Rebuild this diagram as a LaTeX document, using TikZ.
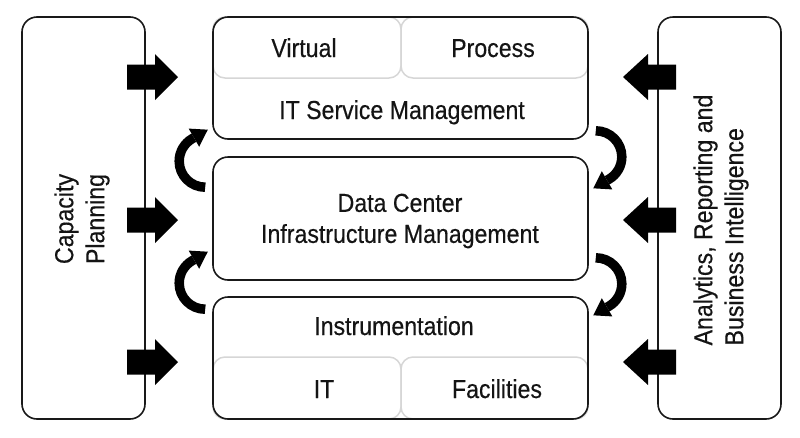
\documentclass[tikz,border=0pt]{standalone}
\usepackage{fontspec}
\setmainfont{Liberation Sans}[FakeStretch=0.89,FakeBold=0.4]
\usetikzlibrary{arrows.meta}
\begin{document}
\begin{tikzpicture}[x=1pt,y=-1pt,
  box/.style={draw=black!90, line width=1.6pt, rounded corners=15pt, inner sep=0pt},
  subbox/.style={draw=black!16, line width=1.5pt, rounded corners=12pt, inner sep=0pt},
  lbl/.style={font=\fontsize{26}{31}\selectfont, text=black!92, inner sep=0pt},
  blk/.style={fill=black},
  curv/.style={line width=9.5pt, black, -{Triangle[length=16pt,width=21pt,line width=0pt]}}]
\useasboundingbox (0,0) rectangle (800,437);
% sub boxes
\node[subbox, minimum width=188pt, minimum height=61pt] (virt) at (307,47.5) {};
\node[subbox, minimum width=187pt, minimum height=61pt] (proc) at (494.5,47.5) {};
\node[subbox, minimum width=188pt, minimum height=62pt] (itb) at (307,388) {};
\node[subbox, minimum width=187pt, minimum height=62pt] (fac) at (494.5,388) {};
% main boxes
\node[box, minimum width=123pt, minimum height=402pt] (cap) at (83.5,218) {};
\node[box, minimum width=375pt, minimum height=122pt] (svc) at (400.5,78) {};
\node[box, minimum width=375pt, minimum height=123pt] (dcim) at (400.5,218.5) {};
\node[box, minimum width=375pt, minimum height=122pt] (inst) at (400.5,358) {};
\node[box, minimum width=123pt, minimum height=402pt] (ana) at (719.5,218) {};
% labels
\node[lbl, anchor=base] (tv) at (304,57) {Virtual};
\node[lbl, anchor=base] (tp) at (493,57) {Process};
\node[lbl, anchor=base] (ts) at (402,119) {IT Service Management};
\node[lbl, align=center] (td) at (400,221) {Data Center\\Infrastructure Management};
\node[lbl, anchor=base] (ti) at (394,335) {Instrumentation};
\node[lbl, anchor=base] (tit) at (324,398) {IT};
\node[lbl, anchor=base] (tf) at (497,398) {Facilities};
\node[lbl, align=center, rotate=90] (tc) at (82,219) {Capacity\\Planning};
\node[lbl, align=left, rotate=90] (ta) at (721,220) {Analytics, Reporting and\\Business Intelligence};
% block arrows from the side boxes
\foreach \yy [count=\i] in {77,220,362} {
  \coordinate (la\i) at (127,\yy);
  \fill[blk] (la\i) ++(0,-12.5) -- ++(28,0) -- ++(0,-10.5) -- ++(23,23)
     -- ++(-23,23) -- ++(0,-10.5) -- ++(-28,0) -- cycle;
  \coordinate (ra\i) at (676,\yy);
  \fill[blk] (ra\i) ++(0,-12.5) -- ++(-28,0) -- ++(0,-10.5) -- ++(-25,23)
     -- ++(25,23) -- ++(0,-10.5) -- ++(28,0) -- cycle;
}
% curved arrows
\coordinate (r1) at ([shift={(7,-9)}]svc.south east);
\coordinate (r2) at ([shift={(7,-23)}]dcim.south east);
\coordinate (l1) at ([shift={(-7,31)}]dcim.north west);
\coordinate (l2) at ([shift={(-7,13)}]inst.north west);
\draw[curv] (r1) arc[start angle=-90,end angle=60,radius=26] -- ++(150:18);
\draw[curv] (r2) arc[start angle=-90,end angle=60,radius=26] -- ++(150:18);
\draw[curv] (l1) arc[start angle=90,end angle=240,radius=26] -- ++(330:18);
\draw[curv] (l2) arc[start angle=90,end angle=240,radius=26] -- ++(330:18);
\end{tikzpicture}
\end{document}
